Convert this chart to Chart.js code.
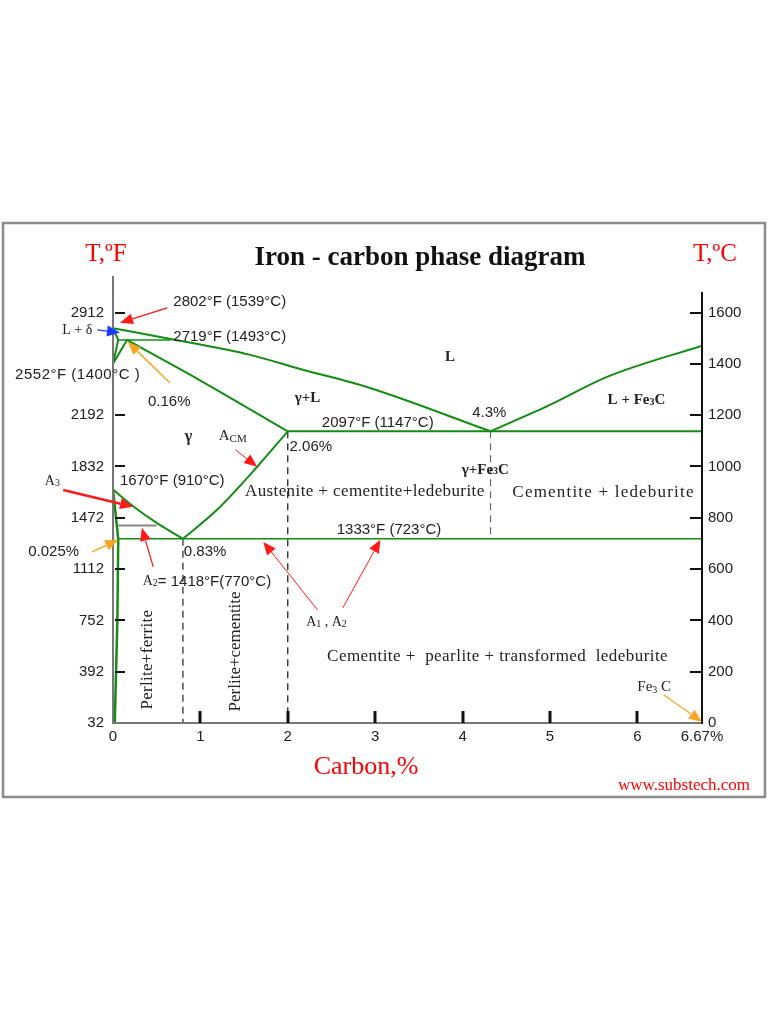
<!DOCTYPE html>
<html>
<head>
<meta charset="utf-8">
<title>Iron-carbon phase diagram</title>
<script src="https://cdn.jsdelivr.net/npm/chart.js@4.4.1/dist/chart.umd.min.js"></script>
<style>
  html, body { margin: 0; padding: 0; background: #fff; }
  canvas { display: block; }
</style>
</head>
<body>
<canvas id="phaseChart" width="768" height="1024"></canvas>
<script>
// [carbon %, temperature °C]
const liquidusLeft = [[0, 1539], [0.66, 1497], [1.57, 1435], [2.14, 1380], [2.94, 1306], [4.32, 1137]];
const liquidusRight = [[4.32, 1137], [5.0, 1240], [5.66, 1350], [6.74, 1471]];
const solidusGamma = [[0.16, 1493], [1.0, 1335], [2.0, 1137]];
const eutecticLine = [[2.0, 1137], [6.74, 1137]];
const acmLine = [[0.8, 718], [1.19, 831], [1.65, 999], [2.0, 1137]];
const a3Line = [[0, 910], [0.23, 845], [0.5, 780], [0.8, 718]];
const eutectoidLine = [[0.06, 718], [6.74, 718]];
const ferriteLine = [[0, 910], [0.06, 718], [0.05, 400], [0.02, 0]];
const deltaLines = [[0, 1539], [0.06, 1493], [0, 1400], [0.16, 1493]];
const peritecticLine = [[0.06, 1493], [0.66, 1493]];
const curieLine = [[0.06, 770], [0.5, 770]];
const dash083 = [[0.8, 718], [0.8, 0]];
const dash206 = [[2.0, 1137], [2.0, 0]];
const dash43 = [[4.32, 1137], [4.32, 718]];

const carbonTicks = [0, 1, 2, 3, 4, 5, 6, 6.74];
const carbonLabels = ['0', '1', '2', '3', '4', '5', '6', '6.67%'];
const tempCTicks = [0, 200, 400, 600, 800, 1000, 1200, 1400, 1600];
const tempFTicks = [32, 392, 752, 1112, 1472, 1832, 2192, 2912];

const GREEN = '#148c14';
const RED = '#ff1a1a';
const BLUE = '#1a3cff';
const ORANGE = '#f5a623';
const SANS = '"Liberation Sans", Arial, sans-serif';
const SERIF = '"Liberation Serif", "Times New Roman", serif';

// text notes: position in carbon % / °C, parts = [text, font, dy], ls = letter spacing
const notes = [
  { c: 0.69, t: 1641, parts: [['2802°F (1539°C)', '15px ' + SANS]] },
  { c: -0.58, t: 1532, parts: [['L + δ', '14px ' + SERIF]] },
  { c: 0.69, t: 1504, parts: [['2719°F (1493°C)', '15px ' + SANS]] },
  { c: -1.12, t: 1357, parts: [['2552°F (1400°C )', '15px ' + SANS]], ls: 0.5 },
  { c: 0.40, t: 1253, parts: [['0.16%', '15px ' + SANS]] },
  { c: 3.80, t: 1428, parts: [['L', 'bold 15px ' + SERIF]] },
  { c: 2.08, t: 1266, parts: [['γ+L', 'bold 15px ' + SERIF]] },
  { c: 2.39, t: 1171, parts: [['2097°F (1147°C)', '15px ' + SANS]] },
  { c: 4.11, t: 1208, parts: [['4.3%', '15px ' + SANS]] },
  { c: 5.66, t: 1259, parts: [['L + Fe', 'bold 15px ' + SERIF], ['3', 'bold 10px ' + SERIF, 2], ['C', 'bold 15px ' + SERIF]] },
  { c: 0.82, t: 1116, parts: [['γ', 'bold 16px ' + SERIF]] },
  { c: 1.21, t: 1117, parts: [['A', '15px ' + SERIF], ['CM', '11px ' + SERIF, 3]] },
  { c: 2.02, t: 1078, parts: [['2.06%', '15px ' + SANS]] },
  { c: 3.99, t: 987, parts: [['γ+Fe', 'bold 15px ' + SERIF], ['3', 'bold 10px ' + SERIF, 2], ['C', 'bold 15px ' + SERIF]] },
  { c: 1.51, t: 902, parts: [['Austenite + cementite+ledeburite', '17px ' + SERIF]], ls: 0.4 },
  { c: 4.57, t: 898, parts: [['Cementite + ledeburite', '17px ' + SERIF]], ls: 1.2 },
  { c: -0.78, t: 941, parts: [['A', '14px ' + SERIF], ['3', '10px ' + SERIF, 2]] },
  { c: 0.08, t: 945, parts: [['1670°F (910°C)', '15px ' + SANS]] },
  { c: -0.97, t: 668, parts: [['0.025%', '15px ' + SANS]] },
  { c: 0.81, t: 668, parts: [['0.83%', '15px ' + SANS]] },
  { c: 2.56, t: 753, parts: [['1333°F (723°C)', '15px ' + SANS]] },
  { c: 0.34, t: 552, parts: [['A', '14px ' + SERIF], ['2', '10px ' + SERIF, 2], ['= 1418°F(770°C)', '15px ' + SANS]] },
  { c: 2.21, t: 392, parts: [['A', '14px ' + SERIF], ['1', '10px ' + SERIF, 2], [' , A', '14px ' + SERIF], ['2', '10px ' + SERIF, 2]] },
  { c: 0.40, t: 247, rot: true, parts: [['Perlite+ferrite', '17px ' + SERIF]], ls: 0.3 },
  { c: 1.40, t: 279, rot: true, parts: [['Perlite+cementite', '17px ' + SERIF]] },
  { c: 2.45, t: 260, parts: [['Cementite +  pearlite + transformed  ledeburite', '17px ' + SERIF]], ls: 0.45 },
  { c: 6.0, t: 140, parts: [['Fe', '15px ' + SERIF], ['3', '10px ' + SERIF, 3], [' C', '15px ' + SERIF]] }
];

// arrows: from (c,t) to (c,t), colour, line width
const arrows = [
  [0.62, 1618, 0.08, 1560, RED, 1.5],
  [-0.18, 1532, 0.08, 1522, BLUE, 1.2],
  [0.65, 1326, 0.17, 1485, ORANGE, 1.5],
  [-0.57, 908, 0.23, 843, RED, 2.5],
  [1.40, 1065, 1.65, 999, RED, 1],
  [0.46, 609, 0.33, 761, RED, 1.2],
  [-0.24, 667, 0.06, 714, ORANGE, 1.5],
  [2.34, 441, 1.72, 706, RED, 1],
  [2.63, 449, 3.06, 714, RED, 1],
  [6.30, 110, 6.74, 5, ORANGE, 1.2]
];

function series(pts, color, width, dash, smooth) {
  return {
    data: pts.map(p => ({ x: p[0], y: p[1] })),
    borderColor: color,
    borderWidth: width,
    borderDash: dash || [],
    cubicInterpolationMode: smooth ? 'monotone' : 'default',
    tension: 0,
    showLine: true,
    pointRadius: 0,
    fill: false,
    yAxisID: 'y'
  };
}

function drawParts(ctx, parts, x, y, align, ls) {
  ctx.letterSpacing = (ls || 0) + 'px';
  let w = 0;
  parts.forEach(p => { ctx.font = p[1]; w += ctx.measureText(p[0]).width; });
  let cx = align === 'center' ? x - w / 2 : x;
  parts.forEach(p => {
    ctx.font = p[1];
    ctx.textAlign = 'left';
    ctx.fillText(p[0], cx, y + (p[2] || 0));
    cx += ctx.measureText(p[0]).width;
  });
  ctx.letterSpacing = '0px';
}

function drawArrow(ctx, x1, y1, x2, y2, color, width) {
  const ang = Math.atan2(y2 - y1, x2 - x1);
  const len = 13, half = 5.5;
  const bx = x2 - Math.cos(ang) * len, by = y2 - Math.sin(ang) * len;
  ctx.strokeStyle = color;
  ctx.fillStyle = color;
  ctx.lineWidth = width;
  ctx.beginPath();
  ctx.moveTo(x1, y1);
  ctx.lineTo(bx, by);
  ctx.stroke();
  ctx.beginPath();
  ctx.moveTo(x2, y2);
  ctx.lineTo(bx + Math.sin(ang) * half, by - Math.cos(ang) * half);
  ctx.lineTo(bx - Math.sin(ang) * half, by + Math.cos(ang) * half);
  ctx.closePath();
  ctx.fill();
}

const phaseExtras = {
  id: 'phaseExtras',
  beforeDraw(chart) {
    const ctx = chart.ctx;
    ctx.save();
    ctx.fillStyle = '#fff';
    ctx.fillRect(0, 0, chart.width, chart.height);
    ctx.restore();
  },
  afterDraw(chart) {
    const { ctx, chartArea: a, scales } = chart;
    const px = c => scales.x.getPixelForValue(c);
    const py = t => scales.y.getPixelForValue(t);
    ctx.save();

    // frame
    ctx.strokeStyle = '#8c8c8c';
    ctx.lineWidth = 2.5;
    ctx.strokeRect(3, 223, 762, 574);

    // axis lines
    ctx.lineWidth = 2;
    ctx.strokeStyle = '#777';
    ctx.beginPath();
    ctx.moveTo(a.left, a.top - 16);
    ctx.lineTo(a.left, a.bottom);
    ctx.lineTo(a.right, a.bottom);
    ctx.stroke();
    ctx.strokeStyle = '#111';
    ctx.beginPath();
    ctx.moveTo(a.right, a.top);
    ctx.lineTo(a.right, a.bottom + 1);
    ctx.stroke();

    // tick marks, pointing into the plot
    ctx.strokeStyle = '#111';
    ctx.lineWidth = 2;
    scales.yF.ticks.forEach(tk => {
      const y = Math.round(scales.yF.getPixelForValue(tk.value));
      if (tk.value === 32) return;
      ctx.beginPath(); ctx.moveTo(a.left + 2, y); ctx.lineTo(a.left + 12, y); ctx.stroke();
    });
    scales.y.ticks.forEach(tk => {
      const y = Math.round(py(tk.value));
      if (tk.value === 0) return;
      ctx.beginPath(); ctx.moveTo(a.right - 12, y); ctx.lineTo(a.right, y); ctx.stroke();
    });
    ctx.lineWidth = 3;
    scales.x.ticks.forEach((tk, i) => {
      if (i === 0 || i === scales.x.ticks.length - 1) return;
      const x = Math.round(px(tk.value));
      ctx.beginPath(); ctx.moveTo(x, a.bottom); ctx.lineTo(x, a.bottom - 12); ctx.stroke();
    });

    // arrows
    arrows.forEach(ar => drawArrow(ctx, px(ar[0]), py(ar[1]), px(ar[2]), py(ar[3]), ar[4], ar[5]));

    // notes
    ctx.fillStyle = '#222';
    ctx.textBaseline = 'middle';
    notes.forEach(n => {
      if (n.rot) {
        ctx.save();
        ctx.translate(px(n.c), py(n.t));
        ctx.rotate(-Math.PI / 2);
        drawParts(ctx, n.parts, 0, 0, 'center', n.ls);
        ctx.restore();
      } else {
        drawParts(ctx, n.parts, px(n.c), py(n.t), 'left', n.ls);
      }
    });

    // titles
    ctx.textAlign = 'center';
    ctx.fillStyle = '#111';
    ctx.font = 'bold 27px ' + SERIF;
    ctx.fillText('Iron - carbon phase diagram', 420, 258);
    ctx.fillStyle = '#ff0000';
    ctx.font = '25px ' + SERIF;
    ctx.fillText('T,ºF', 106, 254);
    ctx.fillText('T,ºC', 715, 254);
    ctx.font = '26px ' + SERIF;
    ctx.fillText('Carbon,%', 366, 767);
    ctx.font = '17px ' + SERIF;
    ctx.fillText('www.substech.com', 684, 786);
    ctx.restore();
  }
};

const tickFont = { family: '"Liberation Sans", Arial, sans-serif', size: 15 };

new Chart(document.getElementById('phaseChart').getContext('2d'), {
  type: 'scatter',
  data: {
    datasets: [
      series(liquidusLeft, GREEN, 2, null, true),
      series(liquidusRight, GREEN, 2, null, true),
      series(solidusGamma, GREEN, 2, null, true),
      series(eutecticLine, GREEN, 2),
      series(acmLine, GREEN, 2, null, true),
      series(a3Line, GREEN, 2, null, true),
      series(ferriteLine, GREEN, 2.5),
      series(deltaLines, GREEN, 2),
      series(peritecticLine, GREEN, 1.5),
      series(eutectoidLine, GREEN, 1.5),
      series(curieLine, '#888', 2),
      series(dash083, '#222', 1.2, [7, 5]),
      series(dash206, '#111', 1.2, [7, 5]),
      series(dash43, '#666', 1.2, [7, 5])
    ]
  },
  options: {
    responsive: false,
    animation: false,
    layout: { padding: { top: 292, left: 0, right: 0, bottom: 0 } },
    plugins: { legend: { display: false }, tooltip: { enabled: false } },
    scales: {
      x: {
        type: 'linear',
        min: 0,
        max: 6.74,
        grid: { display: false, drawTicks: false },
        border: { display: false },
        afterBuildTicks: s => { s.ticks = carbonTicks.map(v => ({ value: v })); },
        afterFit: s => { s.height = 301; },
        ticks: {
          autoSkip: false,
          maxRotation: 0,
          padding: 5,
          color: '#222',
          font: tickFont,
          callback: (v, i) => carbonLabels[i]
        }
      },
      yF: {
        type: 'linear',
        position: 'left',
        min: 32,
        max: 32 + 1680 * 1.8,
        grid: { display: false, drawTicks: false },
        border: { display: false },
        afterBuildTicks: s => { s.ticks = tempFTicks.map(v => ({ value: v })); },
        afterFit: s => { s.width = 113; },
        ticks: { autoSkip: false, padding: 9, color: '#222', font: tickFont, callback: v => String(v) }
      },
      y: {
        type: 'linear',
        position: 'right',
        min: 0,
        max: 1680,
        grid: { display: false, drawTicks: false },
        border: { display: false },
        afterBuildTicks: s => { s.ticks = tempCTicks.map(v => ({ value: v })); },
        afterFit: s => { s.width = 66; },
        ticks: { autoSkip: false, padding: 6, color: '#222', font: tickFont, callback: v => String(v) }
      }
    }
  },
  plugins: [phaseExtras]
});
</script>
</body>
</html>
